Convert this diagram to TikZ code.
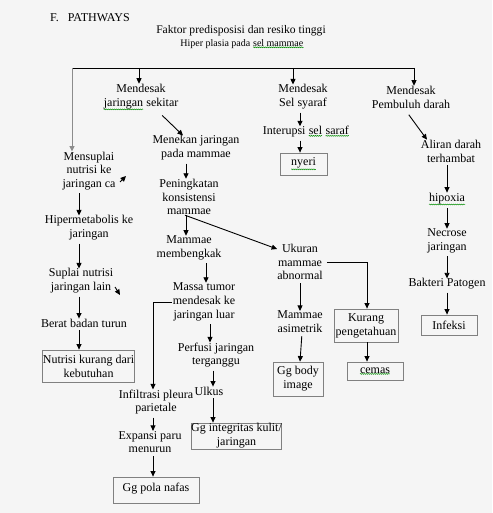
\documentclass[tikz,border=0pt]{standalone}
\usepackage{fontspec}
\setmainfont{Liberation Serif}
\usetikzlibrary{arrows.meta,decorations.pathmorphing}
\newcommand\fs{\fontsize{12}{13.8}\selectfont}
\newcommand\fsa{\fontsize{11.6}{13.8}\selectfont}
\newcommand\fss{\fontsize{10}{12}\selectfont}
\newcommand\sq[1]{\tikz[baseline=(sqx.base)]{\node[draw=none,fill=none,inner sep=0pt,outer sep=0pt,minimum width=0pt,minimum height=0pt](sqx){#1};\draw[green!55!black,line width=0.5pt,decorate,decoration={snake,amplitude=0.45pt,segment length=2pt}]([yshift=-0.8pt]sqx.south west)--([yshift=-0.8pt]sqx.south east);}}
\begin{document}
\begin{tikzpicture}[x=1pt,y=-1pt,
  txt/.style={align=center, inner sep=0pt, font=\fs},
  box/.style={draw=black!50, line width=0.8pt, align=center, inner sep=0pt, font=\fs},
  arr/.style={-{Triangle[length=5.5pt,width=5pt]}, line width=0.9pt},
  gap/.style={shorten <=3pt},
  ln/.style={line width=0.9pt}]
\fill[white!96!black] (0,0) rectangle (492,513);
\useasboundingbox (0,0) rectangle (492,513);

% titles
\node[anchor=west, inner sep=0pt, font=\fs] (ttl) at (50,18) {F.\hspace{9pt}PATHWAYS};
\node[txt, font=\fsa] (fak) at (241,31) {Faktor predisposisi dan resiko tinggi};
\node[txt, font=\fss] (hip) at (242,44) {Hiper plasia pada \sq{sel mammae}};

% level 1
\node[txt] (n1) at (141,97) {Mendesak\\\sq{jaringan} sekitar};
\node[txt] (n2) at (303,97) {Mendesak\\Sel syaraf};
\node[txt] (n3) at (411,97) {Mendesak\\Pembuluh darah};

% left column
\node[txt] (a1) at (89,171) {Mensuplai\\nutrisi ke\\jaringan ca};
\node[txt] (a2) at (89,228) {Hipermetabolis ke\\jaringan};
\node[txt] (a3) at (81,281) {Suplai nutrisi\\jaringan lain};
\node[txt] (a4) at (84,323) {Berat badan turun};
\node[box, minimum width=87pt, minimum height=32pt] (a5) at (88.5,366) {Nutrisi kurang dari\\kebutuhan};

% middle column
\node[txt] (b1) at (196,148) {Menekan jaringan\\pada mammae};
\node[txt] (b2) at (189,197) {Peningkatan\\konsistensi\\mammae};
\node[txt] (b3) at (189,248) {Mammae\\membengkak};
\node[txt] (b4) at (204,302) {Massa tumor\\mendesak ke\\jaringan luar};
\node[txt] (b5) at (216,355) {Perfusi jaringan\\terganggu};
\node[txt] (b6) at (209,391) {Ulkus};
\node[box, minimum width=87pt, minimum height=26pt] (b7) at (236.5,436) {Gg integritas kulit/\\jaringan};

\node[txt] (c1) at (156,402) {Infiltrasi pleura\\parietale};
\node[txt] (c2) at (150,442) {Expansi paru\\menurun};
\node[box, minimum width=86pt, minimum height=26pt] (c3) at (156,490) {\raisebox{5pt}{Gg pola nafas}};

% sel syaraf column
\node[txt] (d1) at (306,132) {Interupsi \sq{sel} \sq{saraf}};
\node[box, minimum width=47pt, minimum height=22pt] (d2) at (303.5,164) {\sq{nyeri}};

% ukuran mammae
\node[txt] (e1) at (300,262) {Ukuran\\mammae\\abnormal};
\node[txt] (e2) at (300,322) {Mammae\\asimetrik};
\node[box, minimum width=50pt, minimum height=34pt] (e3) at (298,379) {Gg body\\image};
\node[box, minimum width=64pt, minimum height=33pt] (e4) at (366,325.5) {Kurang\\pengetahuan};
\node[box, minimum width=56pt, minimum height=18pt] (e5) at (375,371) {\sq{cemas}};

% pembuluh darah column
\node[txt] (f1) at (451,151) {Aliran darah\\terhambat};
\node[txt] (f2) at (447,199) {\sq{hipoxia}};
\node[txt] (f3) at (447,241) {Necrose\\jaringan};
\node[txt] (f4) at (447,284) {Bakteri Patogen};
\node[box, minimum width=56pt, minimum height=20pt] (f5) at (449,325) {Infeksi};

% bus
\coordinate (busL) at (72,68);
\coordinate (busR) at (414,68);
\draw[ln] (busL) -- (busR);
\draw[arr, black!45] (busL) -- (busL |- a1.north);
\draw[arr] ([xshift=-2pt]n1.north |- busL) -- ([xshift=-2pt]n1.north);
\draw[arr] ([xshift=-10pt]n2.north |- busL) -- ([xshift=-10pt]n2.north);
\draw[arr] ([xshift=3pt]n3.north |- busR) -- ([xshift=3pt]n3.north);

% left chain
\draw[arr, gap] ([xshift=-10pt]a1.south) -- ([xshift=-10pt]a2.north);
\draw[arr, gap] ([xshift=-10pt]a2.south) -- ([xshift=-2pt]a3.north);
\draw[arr, gap] ([xshift=-2pt]a3.south) -- ([xshift=-5pt]a4.north);
\draw[arr, gap] ([xshift=-5pt]a4.south) -- ([xshift=-9.5pt]a5.north);
\coordinate (s1a) at (120,182); \coordinate (s1b) at (126,176);
\draw[arr] (s1a) -- (s1b);
\coordinate (s2a) at (115,287); \coordinate (s2b) at (120,295);
\draw[arr] (s2a) -- (s2b);

% middle chain
\draw[arr, gap] ([xshift=19pt,yshift=-3pt]n1.south) -- ([xshift=-13pt]b1.north);
\draw[arr, gap] ([xshift=-10pt]b1.south) -- ([xshift=-3pt]b2.north);
\draw[arr] ([xshift=-3pt]b2.south) -- ([xshift=-3pt]b3.north);
\draw[arr] ([xshift=-4pt]b2.south) -- ([yshift=13pt]e1.west);
\draw[arr, gap] ([xshift=17pt]b3.south) -- ([xshift=2pt]b4.north);
\draw[arr] ([xshift=-1pt]b4.west) -- ([xshift=-3pt]c1.north |- b4.west) -- ([xshift=-3pt]c1.north);
\draw[arr, gap] ([xshift=6pt]b4.south) -- ([xshift=-6pt]b5.north);
\draw[arr, gap] ([xshift=-3pt]b5.south) -- ([xshift=4pt]b6.north);
\draw[arr, gap] ([xshift=4pt]b6.south) -- ([xshift=-23.5pt]b7.north);
\draw[arr, gap] ([xshift=-3pt]c1.south) -- ([xshift=3pt]c2.north);
\draw[arr, gap] ([xshift=3pt]c2.south) -- ([xshift=-3pt]c3.north);

% sel syaraf chain
\draw[arr, gap] ([xshift=-3pt]n2.south) -- ([xshift=-6pt]d1.north);
\draw[arr, gap] ([xshift=-6pt]d1.south) -- ([xshift=-3.5pt]d2.north);

% ukuran chain
\draw[arr, gap] (e1.south) -- (e2.north);
\draw[arr, gap] ([xshift=2pt]e2.south) -- ([xshift=2pt]e3.north);
\draw[arr] ([xshift=4pt]e1.east) -- ([xshift=1pt]e4.north |- e1.east) -- ([xshift=1pt]e4.north);
\draw[arr] ([xshift=1pt]e4.south) -- ([xshift=-8pt]e5.north);

% pembuluh chain
\draw[arr, gap] ([xshift=-4pt,yshift=-4pt]n3.south) -- ([xshift=-24pt]f1.north);
\draw[arr, gap] ([xshift=-4pt]f1.south) -- (f2.north);
\draw[arr, gap] (f2.south) -- (f3.north);
\draw[arr, gap] (f3.south) -- (f4.north);
\draw[arr, gap] (f4.south) -- ([xshift=-2pt]f5.north);
\end{tikzpicture}
\end{document}
